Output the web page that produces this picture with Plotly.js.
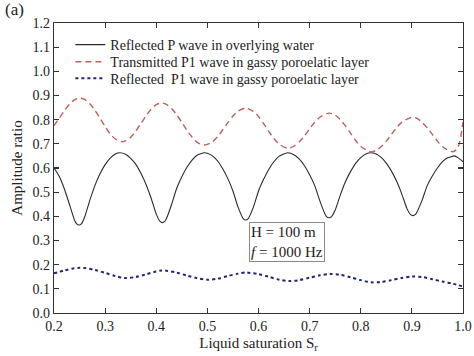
<!DOCTYPE html>
<html><head><meta charset="utf-8">
<script src="https://cdn.plot.ly/plotly-3.0.1.min.js"></script>
<style>body{margin:0;background:#fff}#c{width:474px;height:356px}</style>
</head><body><div id="c"></div>
<script>
// Reflected P wave in overlying water (black solid)
var xBlack = [0.20,0.21,0.22,0.23,0.24,0.244,0.249,0.254,0.26,0.27,0.28,0.29,0.30,0.31,0.32,0.329,0.34,0.35,0.36,0.37,0.38,0.39,0.40,0.407,0.412,0.417,0.42,0.43,0.44,0.45,0.46,0.47,0.48,0.494,0.50,0.51,0.52,0.53,0.54,0.55,0.56,0.57,0.575,0.58,0.59,0.60,0.61,0.62,0.63,0.64,0.657,0.67,0.68,0.69,0.70,0.71,0.72,0.73,0.733,0.738,0.743,0.75,0.76,0.77,0.78,0.79,0.80,0.81,0.82,0.83,0.84,0.85,0.86,0.87,0.88,0.89,0.897,0.902,0.907,0.91,0.92,0.93,0.94,0.95,0.96,0.97,0.983,0.99,1.00];
var yBlack = [0.600,0.567,0.515,0.451,0.385,0.370,0.364,0.370,0.397,0.466,0.527,0.576,0.614,0.641,0.658,0.663,0.657,0.640,0.615,0.578,0.532,0.475,0.409,0.380,0.374,0.380,0.391,0.449,0.516,0.564,0.603,0.633,0.653,0.663,0.661,0.650,0.629,0.597,0.556,0.505,0.438,0.391,0.385,0.391,0.438,0.505,0.553,0.594,0.626,0.648,0.663,0.654,0.637,0.609,0.572,0.527,0.464,0.410,0.399,0.394,0.399,0.426,0.488,0.543,0.585,0.619,0.643,0.658,0.663,0.658,0.644,0.620,0.587,0.546,0.494,0.434,0.408,0.403,0.408,0.418,0.467,0.527,0.567,0.600,0.626,0.642,0.650,0.643,0.626];
// Transmitted P1 wave in gassy poroelastic layer (red dashed)
var xRed = [0.20,0.21,0.22,0.23,0.24,0.251,0.26,0.27,0.28,0.29,0.30,0.31,0.32,0.333,0.34,0.35,0.36,0.37,0.38,0.39,0.40,0.41,0.42,0.43,0.44,0.45,0.46,0.47,0.48,0.494,0.51,0.52,0.53,0.54,0.55,0.56,0.575,0.59,0.60,0.61,0.62,0.63,0.64,0.657,0.67,0.68,0.69,0.70,0.71,0.72,0.738,0.75,0.76,0.77,0.78,0.79,0.80,0.82,0.83,0.84,0.85,0.86,0.87,0.88,0.90,0.91,0.92,0.93,0.94,0.95,0.96,0.98,0.99,1.00];
var yRed = [0.775,0.805,0.836,0.863,0.882,0.889,0.884,0.866,0.839,0.806,0.772,0.741,0.720,0.709,0.712,0.727,0.753,0.784,0.816,0.843,0.862,0.869,0.863,0.846,0.820,0.789,0.756,0.728,0.706,0.695,0.709,0.730,0.758,0.788,0.815,0.835,0.848,0.834,0.813,0.784,0.752,0.722,0.699,0.682,0.691,0.709,0.733,0.762,0.789,0.810,0.827,0.819,0.800,0.774,0.744,0.714,0.689,0.667,0.672,0.688,0.711,0.739,0.766,0.789,0.810,0.805,0.789,0.766,0.739,0.711,0.688,0.667,0.685,0.790];
// Reflected P1 wave in gassy poroelastic layer (blue dotted)
var xBlue = [0.20,0.22,0.24,0.25,0.26,0.28,0.30,0.32,0.338,0.36,0.38,0.40,0.41,0.42,0.44,0.46,0.48,0.50,0.52,0.54,0.56,0.575,0.58,0.60,0.62,0.64,0.66,0.68,0.70,0.72,0.74,0.76,0.78,0.80,0.82,0.84,0.86,0.88,0.90,0.92,0.94,0.96,0.98,1.00];
var yBlue = [0.164,0.176,0.185,0.187,0.186,0.178,0.166,0.153,0.145,0.149,0.160,0.172,0.176,0.175,0.167,0.155,0.144,0.138,0.142,0.153,0.163,0.168,0.167,0.161,0.150,0.138,0.132,0.136,0.146,0.156,0.161,0.158,0.148,0.136,0.127,0.128,0.136,0.145,0.151,0.149,0.140,0.130,0.121,0.110];
var names = ["Reflected P wave in overlying water","Transmitted P1 wave in gassy poroelatic layer","Reflected&nbsp; P1 wave in gassy poroelatic layer"];
var xTicks = [0.2,0.3,0.4,0.5,0.6,0.7,0.8,0.9,1.0];
var yTicks = [0.0,0.1,0.2,0.3,0.4,0.5,0.6,0.7,0.8,0.9,1.0,1.1,1.2];

var F = "Liberation Serif, Times New Roman, serif";
var traces = [
 {x:xBlack,y:yBlack,name:names[0],mode:"lines",legend:"legend",showlegend:true,line:{color:"#2a2a2a",width:1.1,shape:"spline",smoothing:0.5}},
 {x:xRed,y:yRed,name:names[1],mode:"lines",legend:"legend2",showlegend:true,line:{color:"#c0605c",width:1.4,dash:"6px,4px",shape:"spline",smoothing:0.8}},
 {x:xBlue,y:yBlue,name:names[2],mode:"lines",legend:"legend3",showlegend:true,line:{color:"#23237a",width:2,dash:"dot",shape:"spline",smoothing:0.8}}
];
var ax = {showline:true,linecolor:"#333",linewidth:1.3,mirror:"ticks",ticks:"inside",ticklen:5,tickcolor:"#333",tickwidth:1.2,showgrid:false,zeroline:false,tickfont:{family:F,size:14,color:"#222"}};
function leg(y){return {x:0.04,y:y,xanchor:"left",yanchor:"middle",bgcolor:"rgba(0,0,0,0)",font:{family:F,size:14,color:"#222"}};}
var layout = {
 width:474,height:356,margin:{l:54,r:11,t:23,b:43},paper_bgcolor:"#fff",plot_bgcolor:"#fff",
 font:{family:F,color:"#222"},showlegend:true,
 xaxis:Object.assign({},ax,{range:[0.2,1.0],tickvals:xTicks,ticktext:xTicks.map(function(v){return v.toFixed(1);}),title:{text:"Liquid saturation S<sub>r</sub>",font:{family:F,size:15},standoff:4}}),
 yaxis:Object.assign({},ax,{range:[0,1.2],tickvals:yTicks,ticktext:yTicks.map(function(v){return v.toFixed(1);}),title:{text:"Amplitude ratio",font:{family:F,size:15},standoff:6}}),
 legend:leg(0.924),legend2:leg(0.865),legend3:leg(0.808),
 annotations:[
  {xref:"x",yref:"y",x:0.655,y:0.294,text:"H = 100 m<br><i>f</i> = 1000 Hz",showarrow:false,align:"left",font:{family:F,size:15,color:"#222"},bordercolor:"#888",borderwidth:1,borderpad:1,bgcolor:"#fff"},
  {xref:"paper",yref:"paper",x:-0.125,y:1.085,xanchor:"left",yanchor:"top",text:"(a)",showarrow:false,font:{family:F,size:17,color:"#222"}}
 ]
};
Plotly.newPlot("c",traces,layout,{displayModeBar:false,staticPlot:true});
</script></body></html>
